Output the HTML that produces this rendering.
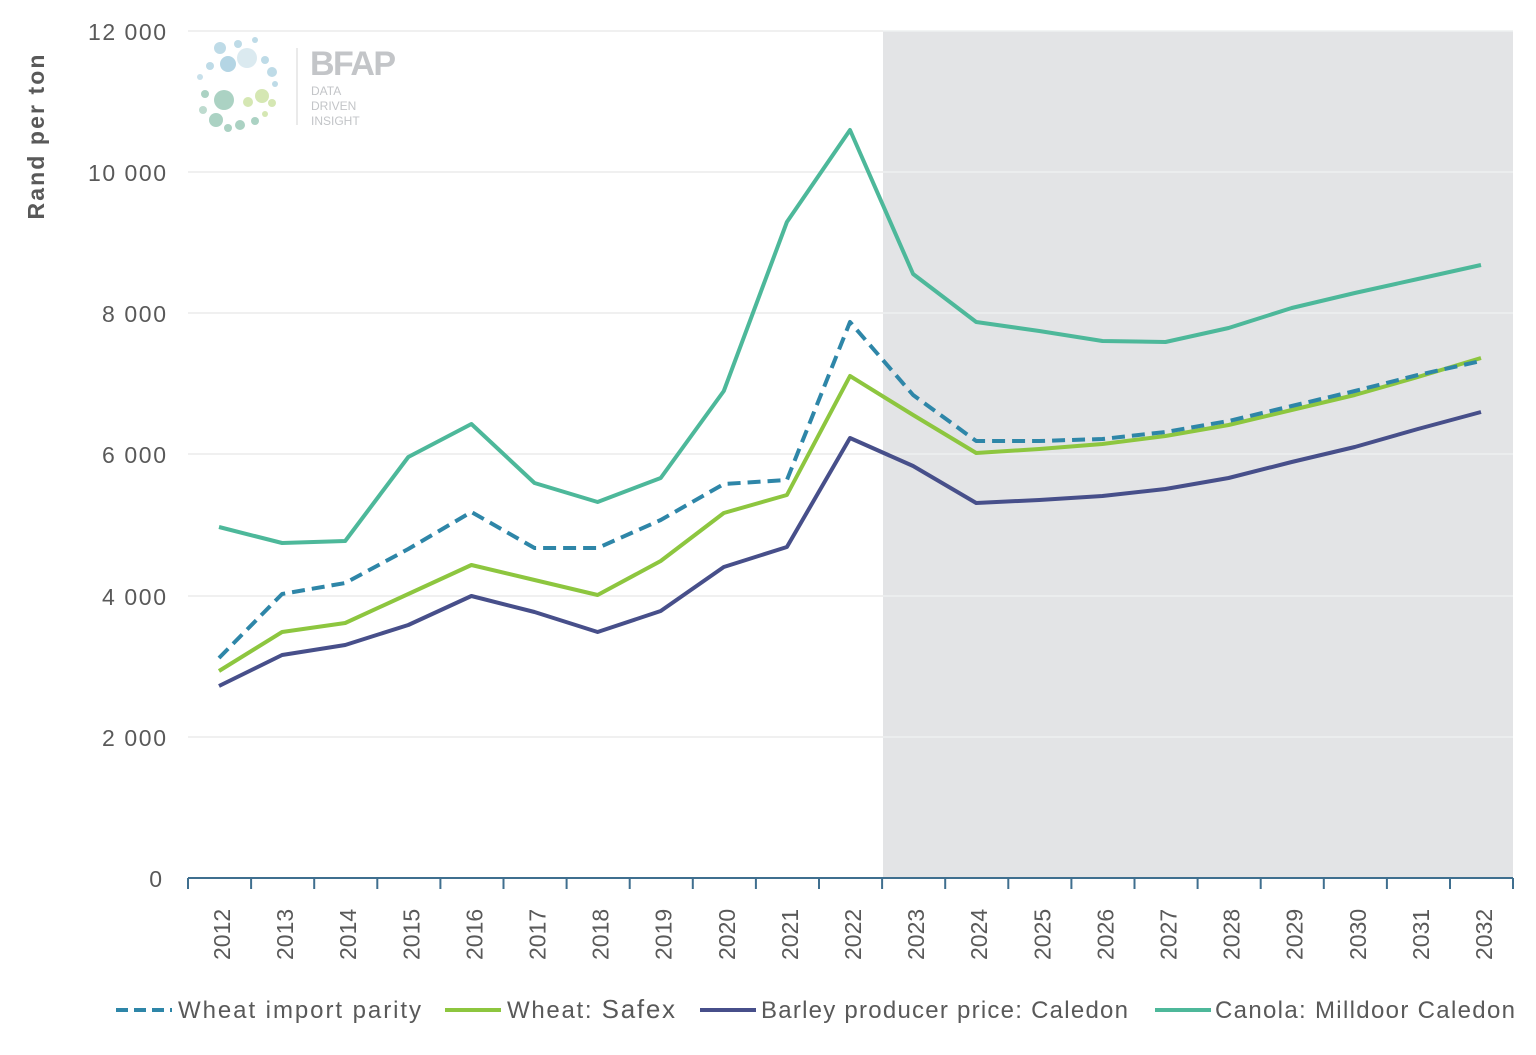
<!DOCTYPE html>
<html><head><meta charset="utf-8"><style>
html,body{margin:0;padding:0;background:#fff;}
svg{display:block;font-family:"Liberation Sans",sans-serif;}
</style></head><body>
<svg width="1536" height="1055" viewBox="0 0 1536 1055" xmlns="http://www.w3.org/2000/svg">
<rect x="883" y="31" width="630" height="847" fill="#e3e4e6"/>
<g stroke="#ececec" stroke-width="1.5">
<line x1="188" y1="31" x2="883" y2="31"/><line x1="188" y1="172" x2="883" y2="172"/>
<line x1="188" y1="313" x2="883" y2="313"/><line x1="188" y1="454" x2="883" y2="454"/>
<line x1="188" y1="596" x2="883" y2="596"/><line x1="188" y1="737" x2="883" y2="737"/>
</g>
<g stroke="#eef0f1" stroke-width="1.5">
<line x1="883" y1="31" x2="1513" y2="31"/><line x1="883" y1="172" x2="1513" y2="172"/>
<line x1="883" y1="313" x2="1513" y2="313"/><line x1="883" y1="454" x2="1513" y2="454"/>
<line x1="883" y1="596" x2="1513" y2="596"/><line x1="883" y1="737" x2="1513" y2="737"/>
</g>
<!-- logo -->
<g opacity="0.75">
<circle cx="220" cy="48" r="6" fill="#a9cfe0"/><circle cx="238" cy="44" r="4" fill="#a9cfe0"/>
<circle cx="247" cy="58" r="10" fill="#cfe3ec"/><circle cx="228" cy="64" r="8" fill="#9cc8dc"/>
<circle cx="210" cy="66" r="4" fill="#a9cfe0"/><circle cx="265" cy="60" r="4" fill="#a9cfe0"/>
<circle cx="272" cy="72" r="5" fill="#a9cfe0"/><circle cx="200" cy="77" r="3" fill="#b6d6e4"/>
<circle cx="275" cy="84" r="3" fill="#a9cfe0"/><circle cx="255" cy="40" r="3" fill="#a9cfe0"/>
<circle cx="224" cy="100" r="10" fill="#8fc3b0"/><circle cx="205" cy="94" r="4" fill="#8fc3b0"/>
<circle cx="262" cy="96" r="7" fill="#c8e09a"/><circle cx="248" cy="102" r="5" fill="#c8e09a"/>
<circle cx="272" cy="103" r="4" fill="#c8e09a"/><circle cx="216" cy="120" r="7" fill="#8fc3b0"/>
<circle cx="240" cy="125" r="5" fill="#8fc3b0"/><circle cx="255" cy="121" r="4" fill="#8fc3b0"/>
<circle cx="203" cy="110" r="4" fill="#a9d0c0"/><circle cx="228" cy="128" r="4" fill="#8fc3b0"/>
<circle cx="265" cy="114" r="3" fill="#c8e09a"/>
</g>
<line x1="297" y1="48" x2="297" y2="125" stroke="#e2e2e2" stroke-width="1.5"/>
<text x="310" y="75" font-size="34" font-weight="bold" fill="#c3c5c8" textLength="86">BFAP</text>
<text x="311" y="95" font-size="12" fill="#c3c5c8">DATA</text>
<text x="311" y="110" font-size="12" fill="#c3c5c8">DRIVEN</text>
<text x="311" y="125" font-size="12" fill="#c3c5c8">INSIGHT</text>
<!-- y labels -->
<g font-size="23" fill="#595959" text-anchor="end">
<text x="166" y="40" textLength="78">12 000</text><text x="166" y="181" textLength="78">10 000</text>
<text x="166" y="322" textLength="64">8 000</text><text x="166" y="463" textLength="64">6 000</text>
<text x="166" y="605" textLength="64">4 000</text><text x="166" y="746" textLength="64">2 000</text>
<text x="162" y="887">0</text>
</g>
<text transform="translate(44,137) rotate(-90)" text-anchor="middle" font-size="23" font-weight="bold" fill="#595959" textLength="165">Rand per ton</text>
<!-- axis -->
<line x1="188" y1="878" x2="1513" y2="878" stroke="#3f6f8f" stroke-width="2"/>
<g stroke="#3f6f8f" stroke-width="2">
<line x1="188" y1="878" x2="188" y2="889"/><line x1="251.1" y1="878" x2="251.1" y2="889"/><line x1="314.2" y1="878" x2="314.2" y2="889"/><line x1="377.3" y1="878" x2="377.3" y2="889"/><line x1="440.4" y1="878" x2="440.4" y2="889"/><line x1="503.5" y1="878" x2="503.5" y2="889"/><line x1="566.6" y1="878" x2="566.6" y2="889"/><line x1="629.7" y1="878" x2="629.7" y2="889"/><line x1="692.8" y1="878" x2="692.8" y2="889"/><line x1="755.9" y1="878" x2="755.9" y2="889"/><line x1="819" y1="878" x2="819" y2="889"/><line x1="882.1" y1="878" x2="882.1" y2="889"/><line x1="945.2" y1="878" x2="945.2" y2="889"/><line x1="1008.3" y1="878" x2="1008.3" y2="889"/><line x1="1071.4" y1="878" x2="1071.4" y2="889"/><line x1="1134.5" y1="878" x2="1134.5" y2="889"/><line x1="1197.6" y1="878" x2="1197.6" y2="889"/><line x1="1260.7" y1="878" x2="1260.7" y2="889"/><line x1="1323.8" y1="878" x2="1323.8" y2="889"/><line x1="1386.9" y1="878" x2="1386.9" y2="889"/><line x1="1450" y1="878" x2="1450" y2="889"/><line x1="1513" y1="878" x2="1513" y2="889"/>
</g>
<g font-size="23" fill="#595959">
<text transform="translate(230,960) rotate(-90)">2012</text>
<text transform="translate(293.1,960) rotate(-90)">2013</text>
<text transform="translate(356.2,960) rotate(-90)">2014</text>
<text transform="translate(419.3,960) rotate(-90)">2015</text>
<text transform="translate(482.4,960) rotate(-90)">2016</text>
<text transform="translate(545.5,960) rotate(-90)">2017</text>
<text transform="translate(608.6,960) rotate(-90)">2018</text>
<text transform="translate(671.7,960) rotate(-90)">2019</text>
<text transform="translate(734.8,960) rotate(-90)">2020</text>
<text transform="translate(797.9,960) rotate(-90)">2021</text>
<text transform="translate(861,960) rotate(-90)">2022</text>
<text transform="translate(924.1,960) rotate(-90)">2023</text>
<text transform="translate(987.2,960) rotate(-90)">2024</text>
<text transform="translate(1050.3,960) rotate(-90)">2025</text>
<text transform="translate(1113.4,960) rotate(-90)">2026</text>
<text transform="translate(1176.5,960) rotate(-90)">2027</text>
<text transform="translate(1239.6,960) rotate(-90)">2028</text>
<text transform="translate(1302.7,960) rotate(-90)">2029</text>
<text transform="translate(1365.8,960) rotate(-90)">2030</text>
<text transform="translate(1428.9,960) rotate(-90)">2031</text>
<text transform="translate(1492,960) rotate(-90)">2032</text>
</g>
<!-- series -->
<g fill="none" stroke-width="4" stroke-linejoin="round">
<polyline stroke="#4db89a" points="219,527 282.1,543 345.2,541 408.3,457 471.4,424 534.5,483 597.6,502 660.7,478 723.8,391 786.9,222 850,130 913.1,274 976.2,322 1039.3,331 1102.4,341 1165.5,342 1228.6,328 1291.7,308 1354.8,293 1417.9,279 1481,265"/>
<polyline stroke="#8dc63f" points="219,671 282.1,632 345.2,623 408.3,594 471.4,565 534.5,580 597.6,595 660.7,561 723.8,513 786.9,495 850,376 913.1,415 976.2,453 1039.3,449 1102.4,444 1165.5,436 1228.6,425 1291.7,410 1354.8,395 1417.9,377 1481,358"/>
<polyline stroke="#2e86a8" stroke-dasharray="13,7" points="219,658 282.1,594 345.2,583 408.3,549 471.4,512 534.5,548 597.6,548 660.7,520 723.8,484 786.9,480 850,322 913.1,395 976.2,441 1039.3,441 1102.4,439 1165.5,432 1228.6,421 1291.7,406 1354.8,391 1417.9,375 1481,361"/>
<polyline stroke="#474f8a" points="219,686 282.1,655 345.2,645 408.3,625 471.4,596 534.5,612 597.6,632 660.7,611 723.8,567 786.9,547 850,438 913.1,466 976.2,503 1039.3,500 1102.4,496 1165.5,489 1228.6,478 1291.7,462 1354.8,447 1417.9,429 1481,412"/>
</g>
<!-- legend -->
<g stroke-width="4">
<line x1="116" y1="1010" x2="172" y2="1010" stroke="#2e86a8" stroke-dasharray="12,6"/>
<line x1="445" y1="1010" x2="501" y2="1010" stroke="#8dc63f"/>
<line x1="700" y1="1010" x2="756" y2="1010" stroke="#474f8a"/>
<line x1="1155" y1="1010" x2="1211" y2="1010" stroke="#4db89a"/>
</g>
<g font-size="24" fill="#595959">
<text x="178" y="1018" textLength="243">Wheat import parity</text>
<text x="507" y="1018" textLength="168">Wheat: <tspan font-size="26">Safex</tspan></text>
<text x="761" y="1018" textLength="367">Barley producer price: Caledon</text>
<text x="1215" y="1018" textLength="300">Canola: Milldoor Caledon</text>
</g>
</svg>
</body></html>
